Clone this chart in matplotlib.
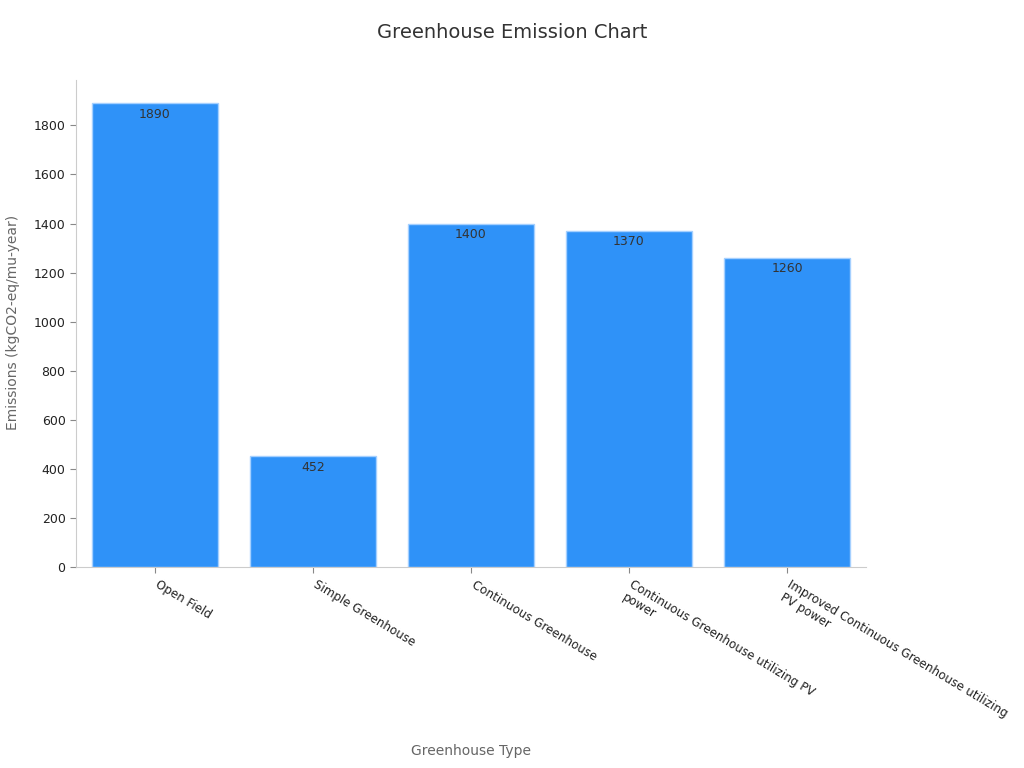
import matplotlib
matplotlib.use("Agg")
import matplotlib.pyplot as plt
from matplotlib.transforms import offset_copy

categories = ["Open Field", "Simple Greenhouse", "Continuous Greenhouse",
              "Continuous Greenhouse utilizing PV\npower",
              "Improved Continuous Greenhouse utilizing\nPV power"]
values = [1890, 452, 1400, 1370, 1260]

fig = plt.figure(figsize=(10.24, 7.68), dpi=100)
ax = fig.add_axes([76/1024, 1-567/768, 790/1024, (567-80)/768])

x = list(range(len(categories)))
bars = ax.bar(x, values, width=0.8, color="#2F92F8", edgecolor="#A5D0FF", linewidth=1)
for xi, v in zip(x, values):
    ax.text(xi, v - 18, str(v), ha="center", va="top", fontsize=9, color="#333333")

ax.set_xlim(-0.5, len(categories) - 0.5)
ax.set_ylim(0, 1985)
ax.set_yticks(range(0, 1801, 200))
ax.set_xticks(x)
ax.set_xticklabels([""] * len(categories))
lbl_tr = offset_copy(ax.get_xaxis_transform(), fig=fig, x=5, y=-11, units="dots")
for xi, c in zip(x, categories):
    ax.text(xi, 0, c, transform=lbl_tr, rotation=-31, ha="left", va="top",
            rotation_mode="anchor", fontsize=8.6, color="#222222", clip_on=False)

ax.tick_params(axis="y", labelsize=9, colors="#222222", length=4, color="#888888")
ax.tick_params(axis="x", length=4, color="#888888", pad=4)
for s in ["top", "right"]:
    ax.spines[s].set_visible(False)
for s in ["left", "bottom"]:
    ax.spines[s].set_color("#cccccc")

fig.text(471/1024, 1 - 751/768, "Greenhouse Type",
         ha="center", va="center", fontsize=10, color="#666666")
fig.text(13/1024, 1 - 322/768, "Emissions (kgCO2-eq/mu-year)", rotation=90,
         ha="center", va="center", fontsize=10, color="#666666")
fig.text(512/1024, 1 - 33/768, "Greenhouse Emission Chart", ha="center", va="center",
         fontsize=14, color="#333333")

fig.savefig("out.png", dpi=100)
